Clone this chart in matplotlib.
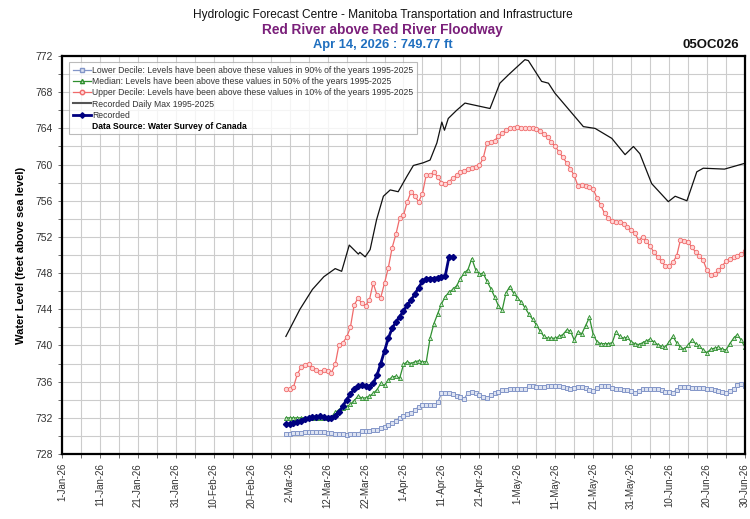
import numpy as np
import pandas as pd
import matplotlib
matplotlib.use('Agg')
import matplotlib.pyplot as plt
from matplotlib.lines import Line2D

plt.rcParams['font.family'] = ['Liberation Sans', 'DejaVu Sans']

# daily series start on 1 Mar 2026
start = '2026-03-01'

lower_decile = [
    730.2, 730.2, 730.3, 730.3, 730.3, 730.4, 730.4, 730.4, 730.4, 730.4,
    730.4, 730.3, 730.3, 730.2, 730.2, 730.2, 730.1, 730.2, 730.2, 730.2,
    730.6, 730.6, 730.6, 730.7, 730.7, 730.9, 731.0, 731.2, 731.4, 731.7,
    732.0, 732.2, 732.4, 732.5, 732.9, 733.2, 733.4, 733.4, 733.4, 733.4,
    733.7, 734.7, 734.7, 734.7, 734.6, 734.4, 734.3, 734.1, 734.8, 734.9,
    734.8, 734.5, 734.3, 734.2, 734.5, 734.7, 734.9, 735.1, 735.1, 735.2,
    735.2, 735.2, 735.2, 735.2, 735.5, 735.5, 735.4, 735.4, 735.4, 735.5,
    735.5, 735.5, 735.5, 735.4, 735.3, 735.2, 735.3, 735.4, 735.4, 735.3,
    735.1, 735.0, 735.3, 735.5, 735.5, 735.5, 735.3, 735.2, 735.2, 735.1,
    735.1, 735.0, 734.8, 735.0, 735.2, 735.2, 735.2, 735.2, 735.2, 735.1,
    734.9, 734.9, 734.8, 735.1, 735.4, 735.4, 735.4, 735.3, 735.3, 735.3,
    735.3, 735.2, 735.2, 735.1, 735.0, 734.9, 734.8, 735.0, 735.2, 735.6,
    735.7, 735.5,
]

median = [
    732.0, 732.0, 732.0, 732.0, 732.0, 732.0, 732.0, 732.0, 732.0, 732.0,
    732.0, 732.0, 732.1, 732.6, 732.9, 733.1, 733.2, 733.5, 733.9, 734.4,
    734.2, 734.2, 734.4, 734.7, 735.1, 735.8, 735.6, 736.2, 736.5, 736.6,
    736.4, 737.9, 738.2, 738.0, 738.2, 738.3, 738.2, 738.2, 740.8, 742.4,
    743.5, 744.6, 745.4, 745.9, 746.2, 746.6, 747.4, 748.0, 748.4, 749.6,
    748.4, 747.9, 748.0, 747.1, 746.3, 745.4, 744.4, 743.9, 745.8, 746.5,
    745.8, 745.3, 744.8, 744.2, 743.5, 742.9, 742.3, 741.6, 741.0, 740.8,
    740.8, 740.8, 741.0, 741.2, 741.7, 741.6, 740.6, 741.5, 741.3, 742.2,
    743.1, 741.2, 740.4, 740.2, 740.2, 740.2, 740.3, 741.5, 741.0, 740.8,
    740.9, 740.4, 740.2, 740.1, 740.3, 740.5, 740.7, 740.4, 740.1, 739.9,
    739.8, 740.4, 741.0, 740.3, 739.8, 739.6, 740.0, 740.6, 740.2, 739.9,
    739.5, 739.2, 739.6, 739.7, 739.8, 739.6, 739.5, 740.2, 740.8, 741.2,
    740.6, 739.8,
]

upper_decile = [
    735.2, 735.2, 735.4, 736.8, 737.6, 737.8, 737.9, 737.5, 737.3, 737.1,
    737.3, 737.2, 737.0, 737.9, 740.1, 740.3, 740.9, 742.0, 744.5, 745.2,
    744.7, 744.4, 745.0, 746.9, 745.6, 745.3, 746.9, 748.6, 750.8, 752.3,
    754.1, 754.4, 755.9, 757.0, 756.5, 755.9, 756.8, 758.9, 758.8, 759.2,
    758.6, 758.0, 757.8, 758.1, 758.5, 758.8, 759.2, 759.3, 759.5, 759.6,
    759.7, 759.9, 760.7, 762.4, 762.5, 762.6, 763.2, 763.5, 763.8, 764.0,
    764.1, 764.2, 764.1, 764.0, 764.1, 764.1, 763.9, 763.7, 763.4, 763.0,
    762.5, 762.0, 761.4, 760.8, 760.2, 759.5, 758.8, 757.6, 757.7, 757.6,
    757.5, 757.3, 756.3, 755.5, 754.6, 754.1, 753.8, 753.7, 753.6, 753.4,
    753.1, 752.8, 752.4, 751.6, 752.0, 751.5, 751.0, 750.3, 749.8, 749.3,
    748.8, 748.8, 749.2, 749.9, 751.7, 751.6, 751.4, 750.9, 750.3, 749.9,
    749.4, 748.3, 747.8, 747.9, 748.3, 748.8, 749.3, 749.6, 749.8, 749.9,
    750.1, 750.4,
]

recorded = [
    731.3, 731.3, 731.4, 731.5, 731.7, 731.9, 732.0, 732.1, 732.1, 732.2,
    732.1, 732.0, 732.0, 732.2, 732.6, 733.3, 734.0, 734.6, 735.2, 735.5,
    735.6, 735.5, 735.4, 735.8, 736.7, 738.0, 739.4, 740.8, 741.9, 742.6,
    743.2, 743.8, 744.5, 745.0, 745.7, 746.4, 747.1, 747.4, 747.4, 747.4,
    747.5, 747.6, 747.7, 749.8, 749.77,
]

# recorded daily max: vertices (days after 1 Jan) and levels
max_days = [59.0, 62.7, 66.0, 69.0, 72.0, 73.7, 75.7, 78.1, 78.5, 79.9, 81.2,
            82.9, 84.7, 86.5, 88.6, 90.9, 92.6, 95.2, 97.0, 98.8, 100.1, 100.8,
            101.8, 104.0, 106.2, 112.8, 115.4, 117.6, 119.4, 122.0, 122.9,
            126.4, 128.2, 129.9, 137.4, 140.5, 144.9, 148.4, 150.6, 152.3,
            155.4, 159.8, 161.6, 164.7, 167.3, 169.0, 174.6, 179.6]
max_vals = [741.0, 744.0, 746.2, 747.6, 748.5, 748.2, 751.1, 750.1, 750.3,
            749.8, 750.6, 753.9, 756.5, 757.2, 757.0, 758.7, 759.9, 760.2,
            760.5, 762.4, 764.7, 763.8, 765.1, 766.0, 766.8, 766.2, 769.0,
            769.9, 770.6, 771.6, 771.5, 769.2, 769.0, 767.9, 764.2, 764.0,
            762.9, 761.1, 762.0, 761.2, 757.9, 755.9, 756.5, 756.0, 759.2,
            759.6, 759.5, 760.1]

legend_labels = [
    'Lower Decile: Levels have been above these values in 90% of the years 1995-2025',
    'Median: Levels have been above these values in 50% of the years 1995-2025',
    'Upper Decile: Levels have been above these values in 10% of the years 1995-2025',
    'Recorded Daily Max 1995-2025',
    'Recorded',
    'Data Source: Water Survey of Canada',
]

days = pd.date_range(start, periods=len(lower_decile), freq='D')
rec_days = pd.date_range(start, periods=len(recorded), freq='D')
max_dates = pd.Timestamp('2026-01-01') + pd.to_timedelta(max_days, unit='D')

fig = plt.figure(figsize=(7.5, 5.19), dpi=100)
ax = fig.add_axes([0.0827, 0.1252, 0.9106, 0.7668])

c_low = '#8396c8'
c_med = '#2f8f2f'
c_up = '#f06a6a'
c_rec = '#000080'

ax.plot(days, lower_decile, color=c_low, lw=0.9, marker='s', ms=3.2,
        mfc='#dde3f2', mec=c_low, mew=0.7)
ax.plot(days, median, color=c_med, lw=0.9, marker='^', ms=3.0,
        mfc='#c8e6c8', mec=c_med, mew=0.6)
ax.plot(days, upper_decile, color=c_up, lw=0.9, marker='o', ms=3.2,
        mfc='#ffd6d6', mec=c_up, mew=0.6)
ax.plot(max_dates, max_vals, color='#111111', lw=0.9)
ax.plot(rec_days, recorded, color=c_rec, lw=2.0, marker='D', ms=3.1,
        mfc=c_rec, mec=c_rec)

ax.set_xlim(pd.Timestamp('2026-01-01'), pd.Timestamp('2026-06-30'))
ax.set_ylim(728, 772)

xt = pd.date_range('2026-01-01', '2026-06-30', freq='10D')
ax.set_xticks(xt)
ax.set_xticklabels([f'{d.day}-{d.strftime("%b")}-26' for d in xt],
                   rotation=90, fontsize=7, color='#333333')
ax.set_xticks(pd.date_range('2026-01-06', '2026-06-30', freq='10D'), minor=True)
ax.set_yticks(np.arange(728, 773, 4))
ax.set_yticks(np.arange(728, 773, 2), minor=True)
ax.tick_params(axis='y', labelsize=7.5, labelcolor='#333333')
ax.tick_params(which='both', direction='out', length=3, width=0.6, color='#555555')

ax.grid(True, which='both', color='#cccccc', lw=0.8)
ax.set_axisbelow(True)
for s in ax.spines.values():
    s.set_linewidth(1.6)
    s.set_color('black')

ax.set_ylabel('Water Level (feet above sea level)', fontsize=8, fontweight='bold',
              labelpad=7)

handles = [
    Line2D([], [], color=c_low, lw=0.9, marker='s', ms=3.2, mfc='#dde3f2', mec=c_low),
    Line2D([], [], color=c_med, lw=0.9, marker='^', ms=3.0, mfc='#c8e6c8', mec=c_med),
    Line2D([], [], color=c_up, lw=0.9, marker='o', ms=3.2, mfc='#ffd6d6', mec=c_up),
    Line2D([], [], color='#555555', lw=1.5),
    Line2D([], [], color=c_rec, lw=2.0, marker='D', ms=2.8),
    Line2D([], [], color='none'),
]
leg = ax.legend(handles, legend_labels, loc='upper left', fontsize=6.2,
                frameon=True, fancybox=False, edgecolor='#aaaaaa',
                handlelength=2.2, handletextpad=0.1, borderpad=0.4,
                labelspacing=0.26, bbox_to_anchor=(0.004, 0.995))
leg.get_frame().set_linewidth(0.8)
for t in leg.get_texts():
    t.set_color('#333333')
leg.get_texts()[-1].set_fontweight('bold')
leg.get_texts()[-1].set_color('black')

fig.text(0.51, 0.972, 'Hydrologic Forecast Centre - Manitoba Transportation and Infrastructure',
         ha='center', va='center', fontsize=8.6, color='#111111')
fig.text(0.51, 0.943, 'Red River above Red River Floodway', ha='center', va='center',
         fontsize=9.8, fontweight='bold', color='#7a1f7a')
fig.text(0.51, 0.913, 'Apr 14, 2026 : 749.77 ft', ha='center', va='center',
         fontsize=9.3, fontweight='bold', color='#1f6fbf')
fig.text(0.985, 0.913, '05OC026', ha='right', va='center', fontsize=9.5,
         fontweight='bold', color='#111111')

fig.savefig('out.png', dpi=100)
